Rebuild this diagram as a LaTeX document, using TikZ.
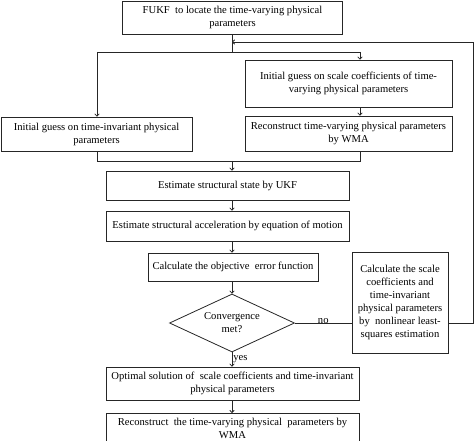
\documentclass[tikz,border=0pt]{standalone}
\usepackage{fontspec}
\setmainfont{Liberation Serif}
\usetikzlibrary{shapes.geometric,arrows.meta}
\begin{document}
\begin{tikzpicture}[x=1pt,y=-1pt,
  font=\fontsize{10.6}{13}\selectfont,
  line width=0.8pt, draw=black!85,
  box/.style={draw, rectangle, align=center, inner sep=1pt},
  dec/.style={draw, diamond, aspect=2.15, inner sep=0pt, align=center},
  arr/.style={-{To[length=3pt,width=5pt]}},
  lbl/.style={font=\fontsize{10.6}{11}\selectfont, inner sep=1pt}]
\useasboundingbox (0,0) rectangle (474,441);
\node[box, minimum width=220pt, minimum height=33pt] (top) at (232.5,17.5) {FUKF\ \ to locate the time-varying physical\\parameters};
\node[box, minimum width=207pt, minimum height=47pt] (r1) at (348.5,83.5) {Initial guess on scale coefficients of time-\\varying physical parameters};
\node[box, minimum width=207pt, minimum height=35pt] (r2) at (348.5,133.5) {Reconstruct time-varying physical parameters\\by WMA};
\node[box, minimum width=191pt, minimum height=34pt] (left) at (96.5,134) {Initial guess on time-invariant physical\\parameters};
\node[box, minimum width=243pt, minimum height=29pt] (est) at (227.5,185.5) {Estimate structural state by UKF};
\node[box, minimum width=243pt, minimum height=30pt] (acc) at (227.5,226) {Estimate structural acceleration by equation of motion};
\node[box, minimum width=170pt, minimum height=28pt] (calc) at (233,267) {Calculate the objective\ \ error function};
\node[dec, minimum width=125pt, minimum height=58pt] (dia) at (232,323) {Convergence\\met?};
\node[box, minimum width=96pt, minimum height=101pt] (rb) at (400,302.5) {Calculate the scale\\coefficients and\\time-invariant\\physical parameters\\by\ \ nonlinear least-\\squares estimation};
\node[box, minimum width=253pt, minimum height=33pt] (opt) at (232.5,383.5) {Optimal solution of\ \ scale coefficients and time-invariant\\physical parameters};
\node[box, minimum width=253pt, minimum height=30pt, anchor=north] (last) at (232.5,413) {Reconstruct\ \ the time-varying physical\ \ parameters by\\WMA};
% junction coordinates
\coordinate (j1) at (232,42);
\coordinate (s) at (232,52);
\coordinate (sl) at (97,52);
\coordinate (sr) at (360,52);
\coordinate (ml) at (97,161);
\coordinate (mr) at (360,161);
\coordinate (m) at (232,161);
\coordinate (fb1) at (473,323);
\coordinate (fb2) at (473,42);
% connectors
\draw (top.south -| s) -- (s);
\draw (sl) -- (sr);
\draw[arr] (sl) -- (left.north -| sl);
\draw[arr] (sr) -- (r1.north -| sr);
\draw[arr] (r1.south -| sr) -- (r2.north -| sr);
\draw (left.south -| ml) -- (ml) -- (mr) -- (r2.south -| mr);
\draw[arr] (m) -- (est.north -| m);
\draw[arr] (est.south -| m) -- (acc.north -| m);
\draw[arr] (acc.south -| m) -- (calc.north -| m);
\draw[arr] (calc.south -| m) -- (dia.north);
\draw[arr] (dia.south) -- node[lbl, right, pos=0.45] {yes} (opt.north -| dia.south);
\draw[arr] (opt.south -| m) -- (last.north -| m);
\draw (dia.east) -- node[lbl, above, pos=0.5, yshift=-2.5pt] {no} (rb.west |- dia.east);
\draw[arr] (rb.east |- fb1) -- (fb1) -- (fb2) -- (j1);
\end{tikzpicture}
\end{document}
